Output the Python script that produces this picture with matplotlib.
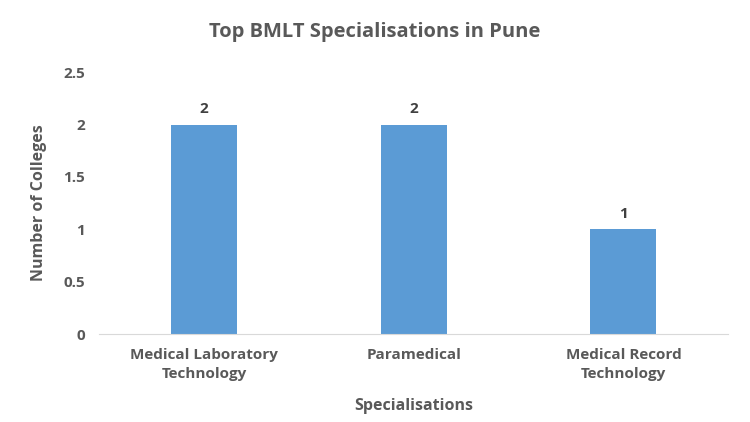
import matplotlib
matplotlib.use("Agg")
import matplotlib.pyplot as plt

categories = ["Medical Laboratory\nTechnology", "Paramedical", "Medical Record\nTechnology"]
values = [2, 2, 1]
yticks = [0, 0.5, 1, 1.5, 2, 2.5]

plt.rcParams['font.family'] = ['Open Sans', 'DejaVu Sans']
gray = "#595959"
fig = plt.figure(figsize=(7.5, 4.22), dpi=100)
ax = fig.add_axes([0.132, 0.2085, 0.839, 0.6205])
x = range(len(categories))
bars = ax.bar(x, values, width=0.315, color="#5b9bd5")
for xi, v in zip(x, values):
    ax.text(xi, v + 0.08, str(v), ha="center", va="bottom", fontsize=11, fontweight="bold", color="#404040")
ax.set_xlim(-0.5, 2.5)
ax.set_ylim(0, 2.5)
ax.set_yticks(yticks)
ax.set_yticklabels([f"{t:g}" for t in yticks])
ax.set_xticks(list(x))
ax.set_xticklabels(categories, linespacing=1.45)
for lab in ax.get_xticklabels() + ax.get_yticklabels():
    lab.set_fontsize(11); lab.set_fontweight("bold"); lab.set_color(gray)
ax.tick_params(length=0, pad=10)
for s in ["top", "right", "left"]:
    ax.spines[s].set_visible(False)
ax.spines["bottom"].set_color("#d9d9d9")
ax.set_xlabel("Specialisations", fontsize=11.5, fontweight="bold", color=gray, labelpad=12)
ax.set_ylabel("Number of Colleges", fontsize=11.5, fontweight="bold", color=gray, labelpad=12)
fig.text(0.5, 0.925, "Top BMLT Specialisations in Pune", ha="center", va="center", fontsize=14.5, fontweight="bold", color=gray)
fig.savefig("out.png", dpi=100)
